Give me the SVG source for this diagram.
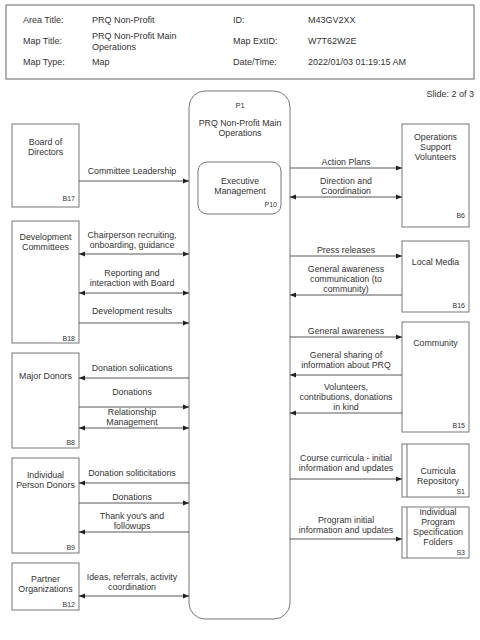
<svg xmlns="http://www.w3.org/2000/svg" width="480" height="640" viewBox="0 0 480 640">
<defs>
<marker id="ah" viewBox="0 0 6 6" refX="6" refY="3" markerWidth="6" markerHeight="6" markerUnits="userSpaceOnUse" orient="auto-start-reverse"><path d="M0,0.5 L6,3 L0,5.5 Z" fill="#222"/></marker>
<style>
text{font-family:"Liberation Sans",Arial,sans-serif;fill:#333;font-size:8.8px}
.h{font-size:9px}
.c{text-anchor:middle}
.r{text-anchor:end;font-size:7px}
.box{fill:#fff;stroke:#777;stroke-width:1}
.ln{fill:none;stroke:#444;stroke-width:0.9}
.f{marker-end:url(#ah)}
.b{marker-start:url(#ah);marker-end:url(#ah)}
.s{marker-start:url(#ah)}
</style>
</defs>
<rect width="480" height="640" fill="#fff"/>
<g id="header">
<rect x="6" y="5" width="468" height="74" fill="#fff" stroke="#666" stroke-width="1"/>
<text class="h" x="23" y="23">Area Title:</text>
<text class="h" x="92" y="23">PRQ Non-Profit</text>
<text class="h" x="233" y="23">ID:</text>
<text class="h" x="308" y="23">M43GV2XX</text>
<text class="h" x="23" y="44">Map Title:</text>
<text class="h" x="92" y="39">PRQ Non-Profit  Main</text>
<text class="h" x="92" y="49.5">Operations</text>
<text class="h" x="233" y="44">Map ExtID:</text>
<text class="h" x="308" y="44">W7T62W2E</text>
<text class="h" x="23" y="65">Map Type:</text>
<text class="h" x="92" y="65">Map</text>
<text class="h" x="233" y="65">Date/Time:</text>
<text class="h" x="308" y="65">2022/01/03 01:19:15  AM</text>
<text class="h" x="474" y="97" text-anchor="end">Slide: 2 of 3</text>
</g>
<g id="P1">
<rect class="box" x="189" y="91" width="101" height="528" rx="16"/>
<text class="c" x="240" y="108" style="font-size:7.5px">P1</text>
<text class="c" x="240" y="126">PRQ Non-Profit Main</text>
<text class="c" x="240" y="136">Operations</text>
</g>
<g id="P10">
<rect class="box" x="198" y="162" width="83" height="52" rx="9"/>
<text class="c" x="240" y="184">Executive</text>
<text class="c" x="240" y="194">Management</text>
<text class="r" x="277" y="207">P10</text>
</g>
<g id="B17">
<rect class="box" x="12" y="124" width="67" height="83"/>
<text class="c" x="45.5" y="145">Board of</text>
<text class="c" x="45.5" y="155">Directors</text>
<text class="r" x="75" y="201">B17</text>
</g>
<g id="B18">
<rect class="box" x="12" y="221" width="67" height="122"/>
<text class="c" x="45.5" y="240">Development</text>
<text class="c" x="45.5" y="250">Committees</text>
<text class="r" x="75" y="341">B18</text>
</g>
<g id="B8">
<rect class="box" x="12" y="353" width="67" height="95"/>
<text class="c" x="45.5" y="379">Major Donors</text>
<text class="r" x="75" y="445">B8</text>
</g>
<g id="B9">
<rect class="box" x="12" y="458" width="67" height="95"/>
<text class="c" x="45.5" y="478">Individual</text>
<text class="c" x="45.5" y="488">Person Donors</text>
<text class="r" x="75" y="550">B9</text>
</g>
<g id="B12">
<rect class="box" x="12" y="563" width="67" height="47"/>
<text class="c" x="45.5" y="582">Partner</text>
<text class="c" x="45.5" y="592">Organizations</text>
<text class="r" x="75" y="607">B12</text>
</g>
<g id="B6">
<rect class="box" x="402" y="124" width="67" height="103"/>
<text class="c" x="435.5" y="140">Operations</text>
<text class="c" x="435.5" y="150">Support</text>
<text class="c" x="435.5" y="160">Volunteers</text>
<text class="r" x="465" y="218">B6</text>
</g>
<g id="B16">
<rect class="box" x="402" y="241" width="67" height="71"/>
<text class="c" x="435.5" y="265">Local Media</text>
<text class="r" x="465" y="308">B16</text>
</g>
<g id="B15">
<rect class="box" x="402" y="322" width="67" height="110"/>
<text class="c" x="435.5" y="346">Community</text>
<text class="r" x="465" y="428">B15</text>
</g>
<g id="S1">
<rect class="box" x="402" y="444" width="67" height="53"/>
<line x1="407" y1="444" x2="407" y2="497" stroke="#777" stroke-width="1"/>
<text class="c" x="438" y="474">Curricula</text>
<text class="c" x="438" y="484">Repository</text>
<text class="r" x="465" y="494">S1</text>
</g>
<g id="S3">
<rect class="box" x="402" y="507" width="67" height="51"/>
<line x1="407" y1="507" x2="407" y2="558" stroke="#777" stroke-width="1"/>
<text class="c" x="438" y="515">Individual</text>
<text class="c" x="438" y="525">Program</text>
<text class="c" x="438" y="535">Specification</text>
<text class="c" x="438" y="545">Folders</text>
<text class="r" x="465" y="555">S3</text>
</g>
<g id="connectors">
<line class="ln f" x1="79" y1="181" x2="189" y2="181"/>
<line class="ln b" x1="79" y1="254" x2="189" y2="254"/>
<line class="ln b" x1="79" y1="293" x2="189" y2="293"/>
<line class="ln f" x1="79" y1="323" x2="189" y2="323"/>
<line class="ln s" x1="79" y1="378" x2="189" y2="378"/>
<line class="ln f" x1="79" y1="407" x2="189" y2="407"/>
<line class="ln b" x1="79" y1="428" x2="189" y2="428"/>
<line class="ln s" x1="79" y1="483" x2="189" y2="483"/>
<line class="ln f" x1="79" y1="503" x2="189" y2="503"/>
<line class="ln s" x1="79" y1="532" x2="189" y2="532"/>
<line class="ln b" x1="79" y1="596" x2="189" y2="596"/>
<line class="ln f" x1="290" y1="168" x2="402" y2="168"/>
<line class="ln b" x1="290" y1="197" x2="402" y2="197"/>
<line class="ln f" x1="290" y1="256" x2="402" y2="256"/>
<line class="ln s" x1="290" y1="295" x2="402" y2="295"/>
<line class="ln f" x1="290" y1="337" x2="402" y2="337"/>
<line class="ln s" x1="290" y1="375" x2="402" y2="375"/>
<line class="ln s" x1="290" y1="413" x2="402" y2="413"/>
<line class="ln f" x1="290" y1="479" x2="402" y2="479"/>
<line class="ln f" x1="290" y1="539" x2="402" y2="539"/>
<g id="labels">
<text class="c" x="132" y="174">Committee Leadership</text>
<text class="c" x="132" y="238">Chairperson recruiting,</text>
<text class="c" x="132" y="248">onboarding, guidance</text>
<text class="c" x="132" y="276">Reporting and</text>
<text class="c" x="132" y="286">interaction with Board</text>
<text class="c" x="132" y="314">Development results</text>
<text class="c" x="132" y="371">Donation soliications</text>
<text class="c" x="132" y="395">Donations</text>
<text class="c" x="132" y="415">Relationship</text>
<text class="c" x="132" y="425">Management</text>
<text class="c" x="132" y="476">Donation soliticitations</text>
<text class="c" x="132" y="500">Donations</text>
<text class="c" x="132" y="519">Thank you's and</text>
<text class="c" x="132" y="529">followups</text>
<text class="c" x="132" y="580">Ideas, referrals, activity</text>
<text class="c" x="132" y="590">coordination</text>
<text class="c" x="346" y="165">Action Plans</text>
<text class="c" x="346" y="184">Direction and</text>
<text class="c" x="346" y="194">Coordination</text>
<text class="c" x="346" y="253">Press releases</text>
<text class="c" x="346" y="272">General awareness</text>
<text class="c" x="346" y="282">communication (to</text>
<text class="c" x="346" y="292">community)</text>
<text class="c" x="346" y="334">General awareness</text>
<text class="c" x="346" y="358">General sharing of</text>
<text class="c" x="346" y="368">information about PRQ</text>
<text class="c" x="346" y="390">Volunteers,</text>
<text class="c" x="346" y="400">contributions, donations</text>
<text class="c" x="346" y="410">in kind</text>
<text class="c" x="346" y="461">Course curricula - initial</text>
<text class="c" x="346" y="471">information and updates</text>
<text class="c" x="346" y="523">Program initial</text>
<text class="c" x="346" y="533">information and updates</text>
</g>
</g>
</svg>
